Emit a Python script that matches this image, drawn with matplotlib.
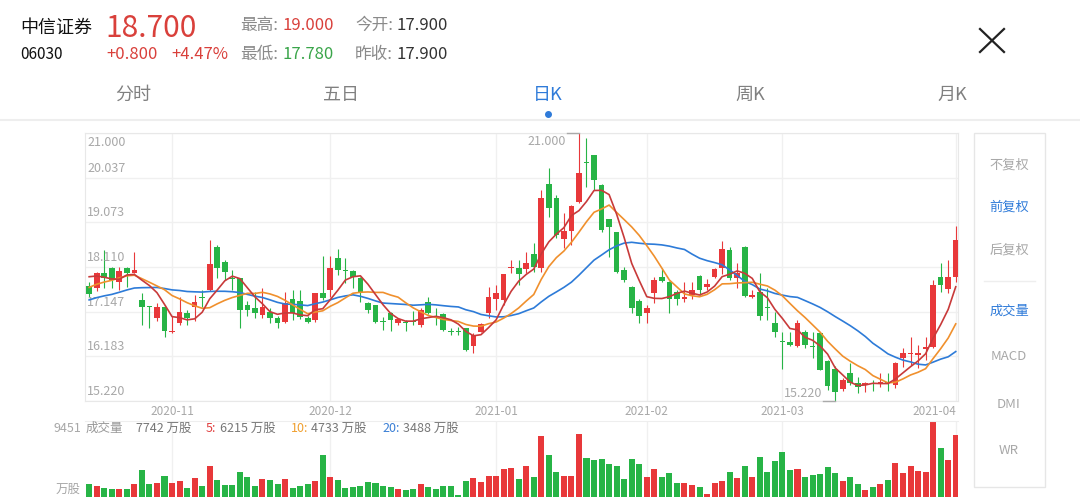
import matplotlib
matplotlib.use('Agg')
import matplotlib.pyplot as plt
import numpy as np
import pandas as pd

plt.rcParams['font.family'] = ['Noto Sans CJK SC', 'DejaVu Sans']

# 日K 数据 (2020-10-16 ~ 2021-04-01)
opens = [17.70, 17.66, 17.98, 18.09, 17.79, 18.09, 17.98, 17.40, 17.26, 17.00,
         17.25, 16.71, 16.90, 17.12, 17.25, 17.45, 17.61, 18.55, 18.22, 17.88,
         17.87, 17.29, 17.23, 17.07, 17.15, 17.02, 16.93, 17.43, 17.38, 17.02,
         16.97, 17.55, 17.61, 18.30, 18.05, 18.03, 17.88, 17.33, 17.29, 16.94,
         17.11, 16.90, 16.91, 16.94, 16.86, 17.36, 17.12, 17.09, 16.72, 16.72,
         16.79, 16.41, 16.71, 17.11, 17.42, 17.40, 18.08, 18.09, 18.07, 18.38,
         18.08, 19.89, 19.59, 18.71, 18.89, 19.51, 20.38, 20.53, 19.88, 19.14,
         18.86, 18.04, 17.68, 17.38, 17.11, 17.54, 17.90, 17.79, 17.58, 17.42,
         17.51, 17.92, 17.68, 17.90, 18.08, 18.48, 17.87, 18.55, 17.46, 17.58,
         17.24, 16.90, 16.51, 16.50, 16.41, 16.71, 16.40, 16.69, 16.09, 15.90,
         15.47, 15.83, 15.61, 15.56, 15.61, 15.60, 15.62, 15.56, 16.14, 16.23,
         16.21, 16.35, 16.38, 17.90, 17.63, 17.90]
highs = [17.79, 18.01, 18.48, 18.12, 18.12, 18.11, 18.44, 17.55, 17.27, 17.33,
         17.29, 17.05, 17.47, 17.18, 17.50, 17.61, 18.69, 18.58, 18.26, 18.04,
         17.88, 17.38, 17.57, 17.65, 17.22, 17.06, 17.57, 17.61, 17.61, 17.05,
         17.55, 18.35, 18.35, 18.50, 18.30, 18.05, 17.90, 17.36, 17.30, 17.04,
         17.14, 17.01, 16.97, 17.16, 17.23, 17.47, 17.23, 17.12, 16.79, 16.82,
         16.80, 16.68, 16.90, 17.68, 17.72, 17.96, 18.26, 18.26, 18.44, 18.62,
         19.77, 20.25, 19.66, 19.27, 19.45, 21.00, 20.89, 20.53, 19.89, 19.15,
         18.87, 18.12, 17.69, 17.43, 17.29, 17.90, 18.08, 17.80, 17.61, 17.79,
         17.79, 17.94, 17.85, 18.08, 18.66, 18.55, 18.19, 18.56, 17.61, 17.97,
         17.65, 17.14, 16.71, 16.71, 16.97, 16.75, 16.71, 16.71, 16.10, 15.98,
         15.71, 16.03, 15.74, 15.64, 15.68, 15.82, 15.82, 16.06, 16.36, 16.59,
         16.43, 16.61, 17.83, 18.19, 18.26, 19.00]
lows = [17.46, 17.59, 17.66, 17.66, 17.61, 17.68, 17.97, 16.86, 16.79, 16.94,
        16.60, 16.68, 16.86, 16.86, 16.95, 17.25, 17.60, 17.87, 17.83, 17.61,
        16.79, 17.05, 17.01, 17.01, 16.90, 16.79, 16.90, 16.97, 16.99, 16.90,
        16.92, 17.40, 17.46, 17.94, 17.76, 17.66, 17.36, 17.11, 16.90, 16.75,
        16.73, 16.86, 16.73, 16.86, 16.82, 17.10, 16.86, 16.72, 16.64, 16.64,
        16.30, 16.25, 16.70, 17.00, 17.18, 17.30, 17.97, 17.72, 17.97, 18.01,
        18.01, 19.19, 18.73, 18.53, 18.58, 19.48, 19.84, 19.77, 18.87, 18.33,
        17.97, 17.79, 17.11, 16.90, 16.90, 17.33, 17.79, 17.11, 17.29, 17.36,
        17.43, 17.51, 17.61, 17.88, 17.95, 17.83, 17.65, 17.47, 17.45, 16.97,
        16.97, 16.61, 15.92, 16.40, 16.39, 16.36, 16.14, 15.88, 15.46, 15.22,
        15.43, 15.56, 15.39, 15.41, 15.44, 15.53, 15.44, 15.49, 15.96, 16.00,
        15.93, 16.10, 16.36, 17.58, 17.54, 17.78]
closes = [17.53, 17.98, 17.87, 17.83, 18.02, 17.99, 18.04, 17.25, 17.25, 17.25,
          16.73, 16.72, 17.14, 17.01, 17.36, 17.44, 18.17, 18.09, 18.00, 17.86,
          17.18, 17.18, 17.11, 17.25, 17.01, 16.90, 17.33, 17.11, 17.03, 16.93,
          17.54, 17.44, 18.09, 18.04, 18.03, 17.90, 17.54, 17.18, 16.93, 16.93,
          16.97, 16.98, 16.90, 16.93, 17.18, 17.11, 17.11, 16.75, 16.71, 16.71,
          16.32, 16.64, 16.87, 17.47, 17.54, 17.95, 18.10, 17.96, 18.20, 18.12,
          19.60, 19.38, 18.80, 18.89, 19.43, 20.13, 20.36, 19.99, 18.91, 18.97,
          18.01, 17.83, 17.22, 17.06, 17.23, 17.83, 17.81, 17.42, 17.42, 17.47,
          17.61, 17.61, 17.74, 18.06, 18.49, 17.87, 17.97, 17.48, 17.51, 17.05,
          17.23, 16.71, 16.50, 16.43, 16.90, 16.43, 16.39, 15.89, 15.54, 15.42,
          15.67, 15.61, 15.53, 15.60, 15.60, 15.64, 15.61, 16.03, 16.26, 16.26,
          16.26, 16.38, 17.72, 17.72, 17.90, 18.70]
# 万股
volumes = [1658, 1409, 1161, 953, 995, 953, 1658, 3399, 1658, 1700,
           2570, 1741, 1990, 1161, 2404, 1409, 3813, 2073, 1451, 1451,
           3067, 2528, 1409, 2238, 2073, 1658, 2280, 1119, 1409, 1575,
           1948, 5223, 2528, 2155, 1119, 1202, 1409, 1907, 1741, 1409,
           1202, 953, 912, 995, 1575, 1285, 1036, 1326, 1326, 290,
           1948, 2321, 1907, 2570, 2570, 3440, 3606, 2197, 3896, 2528,
           7544, 5181, 3109, 2653, 2653, 7793, 4891, 4560, 4684, 4062,
           3896, 2280, 4767, 4145, 2446, 3482, 2528, 3026, 1741, 1741,
           1451, 1244, 415, 1741, 2031, 3150, 2363, 3855, 2487, 5015,
           3150, 4518, 5554, 3399, 3440, 2487, 2736, 2902, 3772, 2984,
           2031, 2446, 1658, 912, 1285, 1617, 2155, 4269, 2984, 3813,
           3191, 3109, 9451, 6135, 4642, 7742]
# 均线用的前 19 日收盘价
pre_close = [17.00, 17.10, 17.20, 17.10, 17.00, 17.20, 17.10, 17.20, 17.20, 17.20,
             17.30, 17.40, 17.45, 17.50, 17.55, 17.90, 18.00, 18.02, 18.05]

month_idx = [11, 32, 54, 74, 92, 115]
month_labels = ['2020-11', '2020-12', '2021-01', '2021-02', '2021-03', '2021-04']
y_ticks = [21.000, 20.037, 19.073, 18.110, 17.147, 16.183, 15.220]

RED = '#e8383a'
GREEN = '#27b446'
GRID = '#f0f0f0'
GRAY = '#a8a8a8'

W, H = 1080, 499
fig = plt.figure(figsize=(W / 100, H / 100), dpi=100)


def box(x0, y0, x1, y1):
    return [x0 / W, 1 - y1 / H, (x1 - x0) / W, (y1 - y0) / H]


# K线
ax = fig.add_axes(box(85, 133, 958, 401))
n = len(closes)
x = np.arange(n)
o = np.array(opens)
c = np.array(closes)
colors = [RED if c[i] >= o[i] else GREEN for i in range(n)]

for v in y_ticks:
    ax.axhline(v, color=GRID, lw=1, zorder=0)
for m in month_idx:
    ax.axvline(m, color=GRID, lw=1, zorder=0)

ax.vlines(x, lows, highs, colors=colors, lw=0.8, zorder=2)
body_h = np.maximum(np.abs(c - o), 0.018)
ax.bar(x, body_h, bottom=np.minimum(o, c), width=0.75, color=colors, zorder=3)

s = pd.Series(pre_close + closes)
ma5 = s.rolling(5).mean().values[len(pre_close):]
ma10 = s.rolling(10).mean().values[len(pre_close):]
ma20 = s.rolling(20).mean().values[len(pre_close):]
ax.plot(x, ma20, color='#2d7bd8', lw=1.2, zorder=4)
ax.plot(x, ma10, color='#f0902d', lw=1.2, zorder=4)
ax.plot(x, ma5, color='#c83a3a', lw=1.2, zorder=4)

ax.set_xlim(-0.55, n - 0.7)
ax.set_ylim(y_ticks[-1], y_ticks[0])
ax.set_yticks([])
ax.set_xticks(month_idx)
ax.set_xticklabels(month_labels, fontsize=8.5, color=GRAY)
ax.tick_params(axis='x', length=0, pad=3)
ax.get_xticklabels()[-1].set_ha('right')
for sp in ax.spines.values():
    sp.set_color('#e8e8e8')

for k, v in enumerate(y_ticks):
    if k == 0:
        ax.annotate('%.3f' % v, xy=(0, v), xycoords=('axes fraction', 'data'), xytext=(2, -3),
                    textcoords='offset pixels', fontsize=9, color=GRAY, va='top')
    else:
        ax.annotate('%.3f' % v, xy=(0, v), xycoords=('axes fraction', 'data'), xytext=(2, 3),
                    textcoords='offset pixels', fontsize=9, color=GRAY, va='bottom')

# 最高最低标记
hi_i = int(np.argmax(highs))
lo_i = int(np.argmin(lows))
ax.plot([hi_i - 1.6, hi_i], [highs[hi_i], highs[hi_i]], color='#aaaaaa', lw=1, zorder=5, clip_on=False)
ax.annotate('%.3f' % highs[hi_i], xy=(hi_i - 1.7, highs[hi_i]), xytext=(0, -2), textcoords='offset pixels',
            fontsize=9, color=GRAY, ha='right', va='top')
ax.plot([lo_i - 1.6, lo_i], [lows[lo_i], lows[lo_i]], color='#aaaaaa', lw=1, zorder=5, clip_on=False)
ax.annotate('%.3f' % lows[lo_i], xy=(lo_i - 1.7, lows[lo_i]), xytext=(0, 1), textcoords='offset pixels',
            fontsize=9, color=GRAY, ha='right', va='bottom')

# 成交量
axv = fig.add_axes(box(85, 421, 958, 497))
axv.set_facecolor('none')
for m in month_idx:
    axv.axvline(m, color=GRID, lw=1, zorder=0)
axv.bar(x, volumes, width=0.8, color=colors, zorder=2)
axv.set_xlim(-0.55, n - 0.7)
axv.set_ylim(0, max(volumes))
axv.set_xticks([])
axv.set_yticks([])
for k, sp in axv.spines.items():
    sp.set_visible(k == 'top')
    sp.set_color('#eeeeee')

# 画布层 (像素坐标), 放在最上面
ax0 = fig.add_axes([0, 0, 1, 1])
ax0.set_xlim(0, W)
ax0.set_ylim(H, 0)
ax0.axis('off')
ax0.set_zorder(10)

ax0.text(20, 28, '中信证券', fontsize=13, color='#111111', va='center')
ax0.text(20, 54, '06030', fontsize=11, color='#111111', va='center')
ax0.text(105, 28, '18.700', fontsize=21.5, color='#d9403b', va='center')
ax0.text(106, 54, '+0.800', fontsize=12, color='#d9403b', va='center')
ax0.text(171, 54, '+4.47%', fontsize=12, color='#d9403b', va='center')
ax0.text(240, 25, '最高:', fontsize=12, color='#8a8a8a', va='center')
ax0.text(283, 25, '19.000', fontsize=12, color='#d9403b', va='center')
ax0.text(240, 54, '最低:', fontsize=12, color='#8a8a8a', va='center')
ax0.text(283, 54, '17.780', fontsize=12, color='#3aa54a', va='center')
ax0.text(355, 25, '今开:', fontsize=12, color='#8a8a8a', va='center')
ax0.text(396, 25, '17.900', fontsize=12, color='#333333', va='center')
ax0.text(355, 54, '昨收:', fontsize=12, color='#8a8a8a', va='center')
ax0.text(396, 54, '17.900', fontsize=12, color='#333333', va='center')

# 关闭按钮
ax0.plot([980, 1004], [29, 52], color='#222222', lw=1.6)
ax0.plot([1004, 980], [29, 52], color='#222222', lw=1.6)

# 标签页
tabs = ['分时', '五日', '日K', '周K', '月K']
tab_x = [133, 341, 548, 750, 952]
for t, xx in zip(tabs, tab_x):
    col = '#2f7bd9' if t == '日K' else '#808080'
    ax0.text(xx, 95, t, fontsize=13, color=col, ha='center', va='center')
ax0.scatter([548], [114], s=16, color='#2f7bd9', zorder=3)
ax0.plot([0, W], [120, 120], color='#eeeeee', lw=1.5)

# 右侧面板
ax0.add_patch(plt.Rectangle((974, 133), 71, 354, fill=False, ec='#e6e6e6', lw=1))
ax0.plot([984, 1035], [281, 281], color='#eeeeee', lw=1)
side = [('不复权', 165, GRAY), ('前复权', 207, '#2f7bd9'), ('后复权', 250, GRAY),
        ('成交量', 311, '#2f7bd9'), ('MACD', 357, GRAY), ('DMI', 404, GRAY), ('WR', 451, GRAY)]
for t, yy, col in side:
    ax0.text(1009, yy, t, fontsize=9.5, color=col, ha='center', va='center')

# 成交量图例
ax0.text(81, 428, '9451', fontsize=9, color=GRAY, ha='right', va='center')
ax0.text(86, 428, '成交量', fontsize=9, color='#999999', va='center')
ax0.text(136, 428, '7742 万股', fontsize=9, color='#777777', va='center')
ax0.text(206, 428, '5:', fontsize=9, color='#e04040', va='center')
ax0.text(220, 428, '6215 万股', fontsize=9, color='#777777', va='center')
ax0.text(291, 428, '10:', fontsize=9, color='#f0a030', va='center')
ax0.text(311, 428, '4733 万股', fontsize=9, color='#777777', va='center')
ax0.text(382, 428, '20:', fontsize=9, color='#3a7fd5', va='center')
ax0.text(403, 428, '3488 万股', fontsize=9, color='#777777', va='center')
ax0.text(81, 489, '万股', fontsize=9, color=GRAY, ha='right', va='center')

fig.savefig('out.png', dpi=100)
